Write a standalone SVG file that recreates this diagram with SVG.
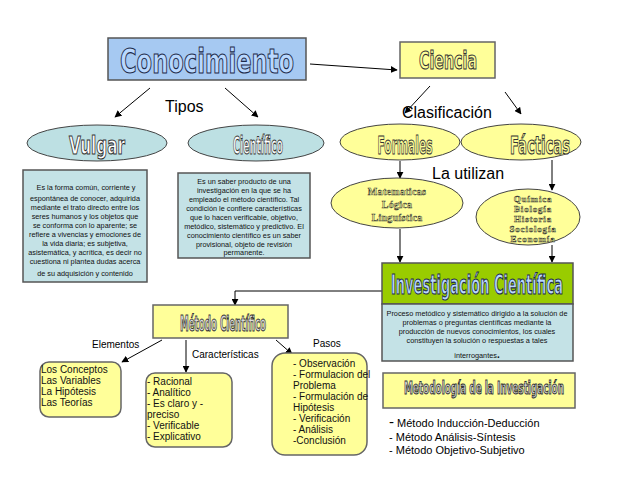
<svg xmlns="http://www.w3.org/2000/svg" width="640" height="480" viewBox="0 0 640 480">
<defs>
<style>
.ttl{font-family:"DejaVu Sans Condensed","Liberation Sans Narrow","Liberation Sans",sans-serif;font-weight:bold;stroke-width:1.1}
.lbl{font-family:"Liberation Sans",Arial,sans-serif;fill:#000}
.sm{font-family:"Liberation Sans",Arial,sans-serif;font-size:7.3px;fill:#111;text-anchor:middle}
.li{font-family:"Liberation Sans",Arial,sans-serif;font-size:10px;fill:#111}
.conn{stroke:#000;stroke-width:1;fill:none}
.tealbox{fill:#c4e2e6;stroke:#555;stroke-width:1.5}
.yel{fill:#ffff99;stroke:#666;stroke-width:1.5}
.ell-t{fill:#bde0e3;stroke:#444;stroke-width:1}
.ell-y{fill:#ffff99;stroke:#444;stroke-width:1}
.sub{font-family:"Liberation Serif","DejaVu Serif",serif;font-weight:bold;fill:#ffff99;stroke:#333;stroke-width:0.5;text-anchor:middle}
</style>
<marker id="ah" viewBox="0 0 10 10" refX="9" refY="5" markerWidth="7" markerHeight="7" orient="auto" markerUnits="userSpaceOnUse">
<path d="M0,0 L10,5 L0,10 z" fill="#000"/>
</marker>
</defs>
<rect width="640" height="480" fill="#fff"/>

<g id="connectors">
<line class="conn" x1="310" y1="64" x2="397" y2="70" marker-end="url(#ah)"/>
<line class="conn" x1="150" y1="88" x2="115" y2="117" marker-end="url(#ah)"/>
<line class="conn" x1="225" y1="88" x2="258" y2="117" marker-end="url(#ah)"/>
<line class="conn" x1="430" y1="86" x2="405" y2="113" marker-end="url(#ah)"/>
<line class="conn" x1="505" y1="92" x2="521" y2="114" marker-end="url(#ah)"/>
<line class="conn" x1="400" y1="161" x2="400" y2="178" marker-end="url(#ah)"/>
<line class="conn" x1="552" y1="160" x2="552" y2="190" marker-end="url(#ah)"/>
<line class="conn" x1="400" y1="229" x2="400" y2="262" marker-end="url(#ah)"/>
<line class="conn" x1="552" y1="245" x2="552" y2="262" marker-end="url(#ah)"/>
<polyline class="conn" points="383,291 235,291 235,305" marker-end="url(#ah)"/>
<line class="conn" x1="162" y1="340" x2="122" y2="362" marker-end="url(#ah)"/>
<line class="conn" x1="186" y1="340" x2="186" y2="372" marker-end="url(#ah)"/>
<line class="conn" x1="276" y1="340" x2="292" y2="354" marker-end="url(#ah)"/>
</g>

<text class="lbl" x="165" y="112" font-size="16">Tipos</text>
<text class="lbl" x="402" y="118" font-size="16">Clasificación</text>
<text class="lbl" x="432" y="179" font-size="16">La utilizan</text>
<text class="lbl" x="92" y="348" font-size="10">Elementos</text>
<text class="lbl" x="192" y="358" font-size="10">Características</text>
<text class="lbl" x="313" y="347" font-size="10">Pasos</text>

<g id="conocimiento">
<rect x="108" y="38" width="198" height="42" fill="#a6c9f2" stroke="#555" stroke-width="1.5"/>
<text class="ttl" x="207" y="73" font-size="34" text-anchor="middle" textLength="174" lengthAdjust="spacingAndGlyphs" fill="#b9d8ff" stroke="#1d2a4a">Conocimiento</text>
</g>

<g id="ciencia">
<rect x="400" y="42" width="95" height="36" class="yel"/>
<text class="ttl" x="448" y="69" font-size="24" text-anchor="middle" textLength="58" lengthAdjust="spacingAndGlyphs" fill="#ffff99" stroke="#333">Ciencia</text>
</g>

<g id="vulgar">
<ellipse cx="97" cy="143" rx="70" ry="18" class="ell-t"/>
<text class="ttl" x="97" y="154" font-size="25" text-anchor="middle" textLength="56" lengthAdjust="spacingAndGlyphs" fill="#fff" stroke="#333">Vulgar</text>
</g>

<g id="cientifico">
<ellipse cx="256" cy="143" rx="68" ry="18" class="ell-t"/>
<text class="ttl" x="258" y="154" font-size="25" text-anchor="middle" textLength="50" lengthAdjust="spacingAndGlyphs" fill="#fff" stroke="#333">Científico</text>
</g>

<g id="formales">
<ellipse cx="400" cy="142" rx="60" ry="18" class="ell-y"/>
<text class="ttl" x="405" y="154" font-size="25" text-anchor="middle" textLength="55" lengthAdjust="spacingAndGlyphs" fill="#ffff99" stroke="#333">Formales</text>
</g>

<g id="facticas">
<ellipse cx="521" cy="142" rx="60" ry="18" class="ell-y"/>
<text class="ttl" x="540" y="154" font-size="25" text-anchor="middle" textLength="60" lengthAdjust="spacingAndGlyphs" fill="#ffff99" stroke="#333">Fácticas</text>
</g>

<g id="vulgar-def">
<rect x="23" y="170" width="124" height="112" class="tealbox"/>
<text class="sm" x="86" y="190">Es la forma común, corriente y</text>
<text class="sm" x="85" y="201">espontánea de conocer, adquirida</text>
<text class="sm" x="85" y="210">mediante el trato directo entre los</text>
<text class="sm" x="85" y="219">seres humanos y los objetos que</text>
<text class="sm" x="85" y="228">se conforma con lo aparente; se</text>
<text class="sm" x="85" y="237">refiere a vivencias y emociones de</text>
<text class="sm" x="85" y="246">la vida diaria; es subjetiva,</text>
<text class="sm" x="85" y="255">asistemática, y acrítica, es decir no</text>
<text class="sm" x="85" y="264">cuestiona ni plantea dudas acerca</text>
<text class="sm" x="85" y="276">de su adquisición y contenido</text>
</g>

<g id="cientifico-def">
<rect x="178" y="173" width="132" height="85" class="tealbox"/>
<text class="sm" x="244" y="184">Es un saber producto de una</text>
<text class="sm" x="244" y="193">investigación en la que se ha</text>
<text class="sm" x="244" y="202">empleado el método científico. Tal</text>
<text class="sm" x="244" y="211">condición le confiere características</text>
<text class="sm" x="244" y="220">que lo hacen verificable, objetivo,</text>
<text class="sm" x="244" y="229">metódico, sistemático y predictivo. El</text>
<text class="sm" x="244" y="238">conocimiento científico es un saber</text>
<text class="sm" x="244" y="247">provisional, objeto de revisión</text>
<text class="sm" x="244" y="255">permanente.</text>
</g>

<g id="formales-sub">
<ellipse cx="397" cy="203" rx="66" ry="25" class="ell-y"/>
<text class="sub" x="397" y="195" font-size="10" letter-spacing="0.3">Matematicas</text>
<text class="sub" x="397" y="208" font-size="10" letter-spacing="0.3">Lógica</text>
<text class="sub" x="397" y="221" font-size="10" letter-spacing="0.3">Linguística</text>
</g>

<g id="facticas-sub">
<ellipse cx="528" cy="217" rx="52" ry="28" class="ell-y"/>
<text class="sub" x="533" y="202" font-size="9" letter-spacing="0.8">Química</text>
<text class="sub" x="533" y="212" font-size="9" letter-spacing="0.8">Biología</text>
<text class="sub" x="533" y="222" font-size="9" letter-spacing="0.8">Historia</text>
<text class="sub" x="533" y="232" font-size="9" letter-spacing="0.8">Sociología</text>
<text class="sub" x="533" y="242" font-size="9" letter-spacing="0.8">Economía</text>
</g>

<g id="investigacion">
<rect x="382" y="263" width="191" height="41" fill="#99cc00" stroke="#555" stroke-width="1.5"/>
<rect x="382" y="304" width="191" height="57" class="tealbox"/>
<text class="ttl" x="477" y="294" font-size="26" text-anchor="middle" textLength="172" lengthAdjust="spacingAndGlyphs" fill="#b9d8ff" stroke="#1d2a4a">Investigación Científica</text>
<text class="sm" x="477" y="316">Proceso metódico y sistemático dirigido a la solución de</text>
<text class="sm" x="477" y="325">problemas o preguntas científicas mediante la</text>
<text class="sm" x="477" y="334">producción de nuevos conocimientos, los cuales</text>
<text class="sm" x="477" y="343">constituyen la solución o respuestas a tales</text>
<text class="sm" x="477" y="358">interrogantes<tspan font-size="10" font-weight="bold">.</tspan></text>
</g>

<g id="metodo">
<rect x="153" y="305" width="135" height="33" class="yel"/>
<text class="ttl" x="223" y="331" font-size="21" text-anchor="middle" textLength="86" lengthAdjust="spacingAndGlyphs" fill="#dcdcdc" stroke="#333">Método Científico</text>
</g>

<g id="elementos">
<rect x="40" y="362" width="81" height="55" rx="9" class="yel"/>
<text class="li" x="41" y="373">Los Conceptos</text>
<text class="li" x="41" y="384">Las Variables</text>
<text class="li" x="41" y="395">La Hipótesis</text>
<text class="li" x="41" y="406">Las Teorías</text>
</g>

<g id="caracteristicas">
<rect x="146" y="373" width="86" height="74" rx="9" class="yel"/>
<text class="li" x="147" y="385">- Racional</text>
<text class="li" x="147" y="396">- Analítico</text>
<text class="li" x="147" y="407">- Es claro y -</text>
<text class="li" x="147" y="418">preciso</text>
<text class="li" x="147" y="429">- Verificable</text>
<text class="li" x="147" y="440">- Explicativo</text>
</g>

<g id="pasos">
<rect x="272" y="353" width="95" height="102" rx="13" class="yel"/>
<text class="li" x="293" y="367">- Observación</text>
<text class="li" x="293" y="378">- Formulacion del</text>
<text class="li" x="293" y="389">Problema</text>
<text class="li" x="293" y="400">- Formulación de</text>
<text class="li" x="293" y="411">Hipótesis</text>
<text class="li" x="293" y="422">- Verificación</text>
<text class="li" x="293" y="433">- Análisis</text>
<text class="li" x="293" y="444">-Conclusión</text>
</g>

<g id="metodologia">
<rect x="383" y="373" width="192" height="35" class="yel"/>
<text class="ttl" x="484" y="394" font-size="18" text-anchor="middle" textLength="160" lengthAdjust="spacingAndGlyphs" fill="#dcdcdc" stroke="#333">Metodología de la Investigación</text>
</g>

<g id="metodos">
<text class="lbl" x="389" y="427" font-size="11"><tspan font-size="15">-</tspan> Método Inducción-Deducción</text>
<text class="lbl" x="389" y="441" font-size="11">- Método Análisis-Síntesis</text>
<text class="lbl" x="389" y="454" font-size="11">- Método Objetivo-Subjetivo</text>
</g>
</svg>
